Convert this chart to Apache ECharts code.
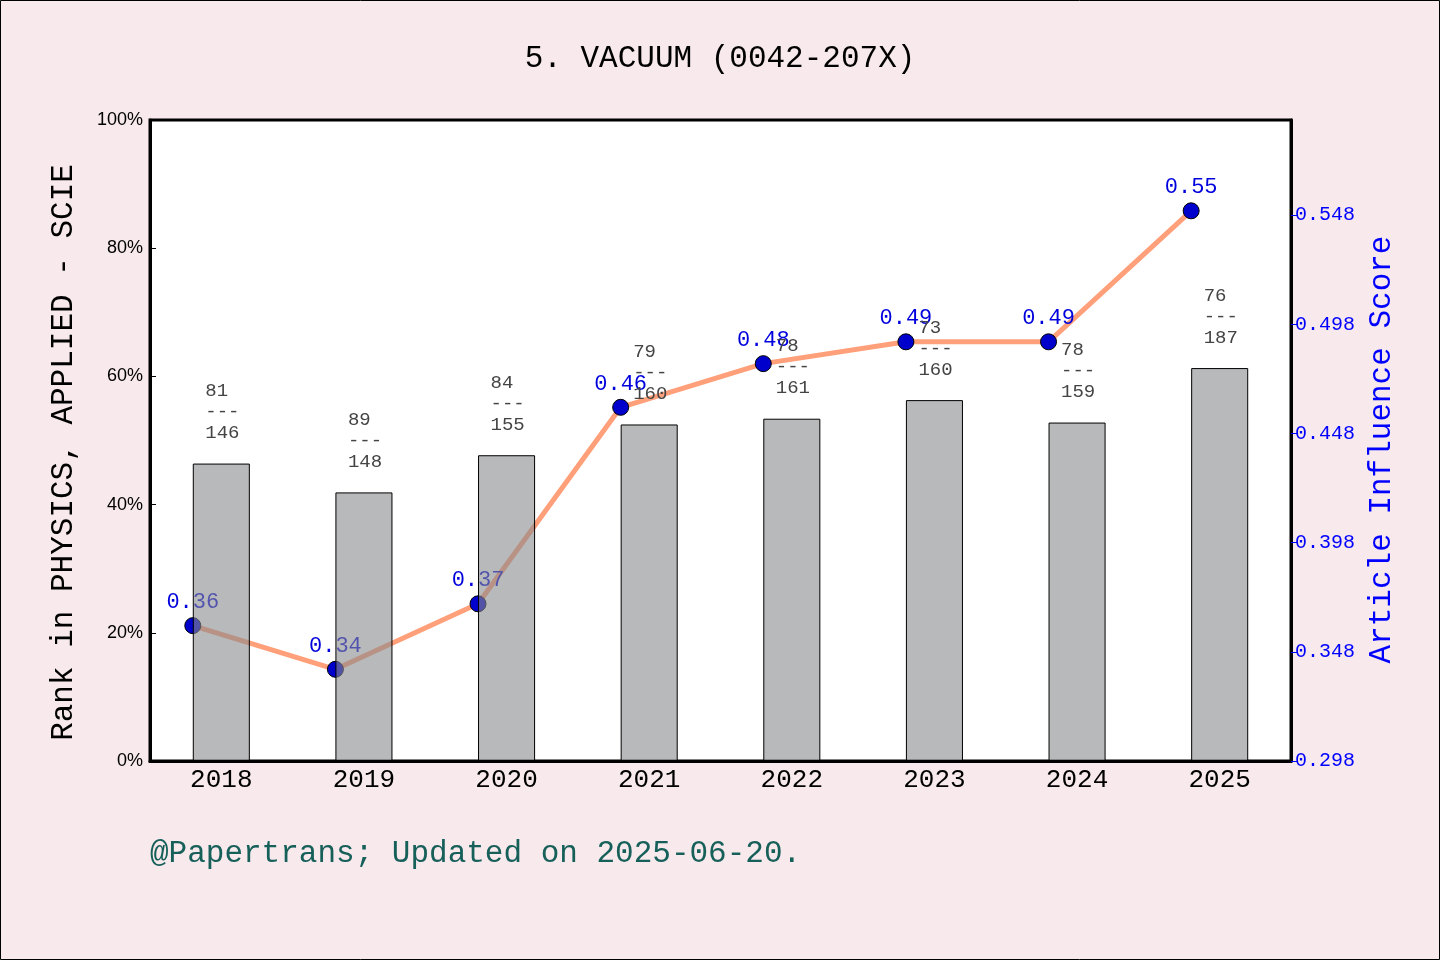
<!DOCTYPE html>
<html>
<head>
<meta charset="utf-8">
<script src="https://cdn.jsdelivr.net/npm/echarts@6/dist/echarts.min.js"></script>
<style>
  html, body { margin: 0; padding: 0; background: #f7e9ec; }
  #chart { width: 1440px; height: 960px; }
</style>
</head>
<body>
<div id="chart"></div>
<script>
  const MONO = '"Liberation Mono", "DejaVu Sans Mono", monospace';

  // dados
  const anos = ['2018', '2019', '2020', '2021', '2022', '2023', '2024', '2025'];
  const percentil = [46.4, 41.9, 47.7, 52.5, 53.4, 56.3, 52.8, 61.3];
  const posicao = [81, 89, 84, 79, 78, 73, 78, 76];
  const total = [146, 148, 155, 160, 161, 160, 159, 187];
  const ais = [0.36, 0.34, 0.37, 0.46, 0.48, 0.49, 0.49, 0.55];

  const larguraBarra = 0.4; // fração da categoria
  // a linha fica na borda esquerda de cada barra
  const pontosLinha = ais.map((v, i) => [i - larguraBarra / 2, v]);

  const chart = echarts.init(document.getElementById('chart'));

  const option = {
    backgroundColor: '#f7e9ec',
    animation: false,
    title: {
      text: '5. VACUUM (0042-207X)',
      left: 'center',
      top: 38,
      textStyle: { fontFamily: MONO, fontSize: 31, fontWeight: 'normal', color: '#000' }
    },
    grid: {
      left: 150, right: 149, top: 120, bottom: 199,
      show: true, backgroundColor: '#fff', borderColor: '#000', borderWidth: 3
    },
    xAxis: [
      {
        type: 'category',
        data: anos,
        boundaryGap: true,
        axisLine: { onZero: false, lineStyle: { color: '#000', width: 3 } },
        axisTick: { inside: true, length: 5, lineStyle: { color: '#000', width: 1 } },
        axisLabel: { fontFamily: MONO, fontSize: 26, color: '#000', margin: 6 }
      },
      {
        type: 'value',
        min: -0.5, max: anos.length - 0.5,
        show: false
      }
    ],
    yAxis: [
      {
        type: 'value',
        min: 0, max: 100, interval: 20,
        name: 'Rank in PHYSICS, APPLIED - SCIE',
        nameLocation: 'middle',
        nameRotate: 90,
        nameGap: 71,
        nameTextStyle: { fontFamily: MONO, fontSize: 31, color: '#000', padding: [0, 24, 0, 0] },
        axisLine: { show: true, onZero: false, lineStyle: { color: '#000', width: 3 } },
        axisTick: { show: true, inside: true, length: 6, lineStyle: { color: '#000' } },
        axisLabel: { formatter: '{value}%', fontFamily: '"Liberation Sans", Arial, sans-serif', fontSize: 18, color: '#000', margin: 7 },
        splitLine: { show: false }
      },
      {
        type: 'value',
        position: 'right',
        min: 0.298, max: 0.5916, interval: 0.05,
        name: 'Article Influence Score',
        nameLocation: 'middle',
        nameRotate: 90,
        nameGap: 66,
        nameTextStyle: { fontFamily: MONO, fontSize: 31, color: '#0000ff', padding: [0, 18, 0, 0] },
        axisLine: { show: true, onZero: false, lineStyle: { color: '#000', width: 3 } },
        axisTick: { show: true, inside: false, length: 6, lineStyle: { color: '#0000ff' } },
        axisLabel: {
          formatter: v => v.toFixed(3),
          showMaxLabel: false,
          fontFamily: MONO, fontSize: 20, color: '#0000ff', margin: 4
        },
        splitLine: { show: false }
      }
    ],
    series: [
      {
        type: 'line',
        xAxisIndex: 1,
        yAxisIndex: 1,
        z: 2,
        data: pontosLinha,
        symbol: 'circle',
        symbolSize: 16,
        lineStyle: { color: '#ffa07a', width: 5 },
        itemStyle: { color: '#0000cc', borderColor: '#000', borderWidth: 1 },
        label: {
          show: true, position: 'top', distance: 4,
          formatter: p => p.value[1].toFixed(2),
          fontFamily: MONO, fontSize: 22, color: '#0000dd'
        }
      },
      {
        type: 'bar',
        xAxisIndex: 0,
        yAxisIndex: 0,
        z: 3,
        barWidth: (larguraBarra * 100) + '%',
        data: percentil,
        itemStyle: { color: 'rgba(137,138,140,0.6)', borderColor: '#000', borderWidth: 1 },
        label: {
          show: true, position: 'top', distance: 20,
          align: 'left', offset: [-16, 0],
          formatter: p => posicao[p.dataIndex] + '\n---\n' + total[p.dataIndex],
          fontFamily: MONO, fontSize: 19, lineHeight: 21, color: '#444'
        }
      }
    ],
    graphic: [
      {
        type: 'text',
        left: 150, top: 838,
        style: { text: '@Papertrans; Updated on 2025-06-20.', font: '31px ' + MONO, fill: '#17605a' }
      },
      {
        type: 'rect',
        shape: { x: 0.5, y: 0.5, width: 1439, height: 959 },
        style: { fill: 'none', stroke: '#000', lineWidth: 1 },
        silent: true
      }
    ]
  };

  chart.setOption(option);
</script>
</body>
</html>
